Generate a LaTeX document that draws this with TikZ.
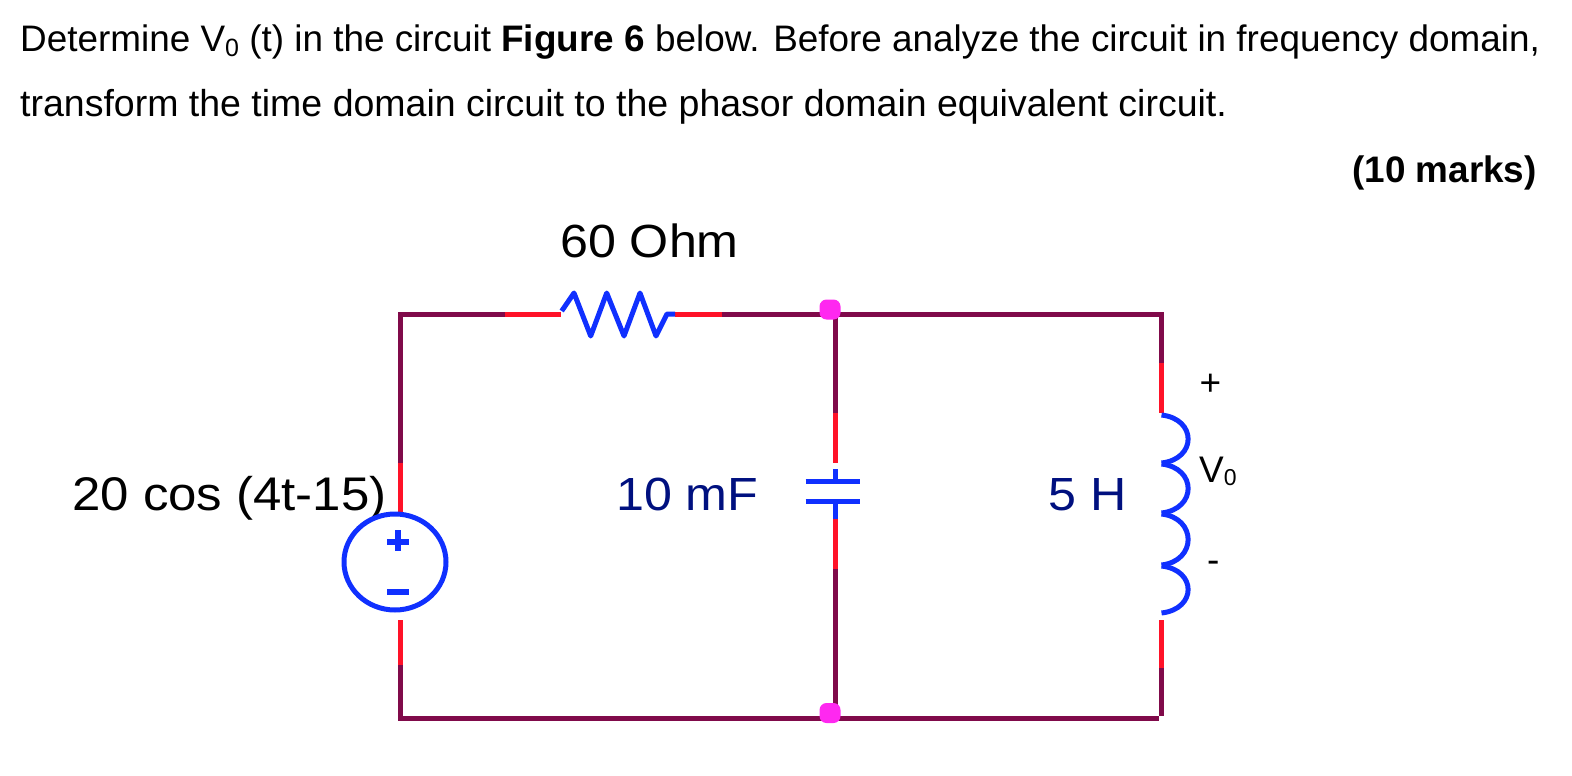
\documentclass[tikz,border=0pt]{standalone}
\usepackage{fontspec}
\setmainfont{Liberation Sans}
\newfontfamily\widefont[FakeStretch=1.08]{Liberation Sans}
\definecolor{wire}{HTML}{800A4A}
\definecolor{lead}{HTML}{FF1228}
\definecolor{comp}{HTML}{1030FF}
\definecolor{dotc}{HTML}{FF28F0}
\definecolor{navy}{HTML}{00107F}
\newcommand{\txt}[1]{\fontsize{#1}{#1}\selectfont}
\begin{document}
\begin{tikzpicture}[x=1pt,y=-1pt,
  wireline/.style={draw=wire,line width=5pt},
  leadline/.style={draw=lead,line width=5pt},
  compline/.style={draw=comp,line width=5pt},
  lbl/.style={inner sep=0pt,anchor=base west},
  hdr/.style={lbl,font=\txt{36.88}},
  big/.style={lbl,font=\widefont\txt{46.5}},
  small/.style={lbl,font=\txt{37}},
  junction/.style={fill=dotc,rounded corners=7pt,minimum width=21pt,minimum height=20pt,inner sep=0pt}]
\useasboundingbox (0,0) rectangle (1572,776);
% texts
\node[hdr] (t1) at (20,52) {Determine V\raisebox{-0.12em}{\txt{25}0} (t) in the circuit \textbf{Figure 6} below. Before analyze the circuit in frequency domain,};
\node[hdr,font=\txt{37.5}] (t2) at (20,116) {transform the time domain circuit to the phasor domain equivalent circuit.};
\node[hdr,anchor=base east] (t3) at (1537,182) {\textbf{(10 marks)}};
\node[big] (r) at (560,257) {60 Ohm};
\node[big,font=\widefont\txt{47.2}] (v) at (72,510) {20 cos (4t-15)};
\node[big,text=navy] (c) at (616,510) {10 mF};
\node[big,text=navy] (l) at (1048,510) {5 H};
\node[small] (plus) at (1199.5,395) {+};
\node[small] (v0) at (1199,482) {V\raisebox{-3pt}{\txt{23}0}};
\node[small] (minus) at (1207,572) {-};
% corners and anchors
\coordinate (tl) at (400.5,314.5);
\coordinate (tm) at (835,314.5);
\coordinate (tr) at (1161,314.5);
\coordinate (bl) at (400.5,718);
\coordinate (bm) at (835,718);
\coordinate (br) at (1158.5,718);
% wires
\draw[wireline,line cap=rect] (400.5,463) -- (tl) -- (505,314.5);
\draw[wireline] (722,314.5) -- (tm) -- (tr) -- (1161,363);
\draw[wireline] (tm) -- (835,413);
\draw[wireline] (835,569) -- (bm);
\draw[wireline] (400.5,665) -- (bl) -- (br);
\draw[wireline] (1161,668) -- (1161,716);
% red leads
\draw[leadline] (505,314.5) -- (561,314.5);
\draw[leadline] (675,314.5) -- (722,314.5);
\draw[leadline] (400.5,463) -- (400.5,513);
\draw[leadline] (400.5,620) -- (400.5,665);
\draw[leadline] (835,413) -- (835,463);
\draw[leadline] (835,519) -- (835,569);
\draw[leadline] (1161,363) -- (1161,413);
\draw[leadline] (1161,620) -- (1161,668);
% resistor
\draw[compline,line join=round] (561.7,311) -- (574,293) -- (590.7,336) -- (606.7,293) -- (624,336) -- (640,293) -- (656,336) -- (667,314) -- (675,314);
% capacitor
\draw[compline] (835,469) -- (835,481);
\draw[compline] (805.5,481) -- (860,481);
\draw[compline] (805.5,501) -- (860,501);
\draw[compline] (835,501) -- (835,519);
% source
\draw[compline] (395,562) ellipse (51pt and 48pt);
\draw[compline,line width=6pt] (387,542) -- (409,542);
\draw[compline,line width=6pt] (398,530) -- (398,550.5);
\draw[compline,line width=6pt] (387,592) -- (409,592);
% inductor
\draw[compline] (1161.5,415) .. controls (1197,419) and (1197,459) .. (1161.5,463);
\draw[compline] (1161.5,464) .. controls (1197,468) and (1197,509) .. (1161.5,513);
\draw[compline] (1161.5,514) .. controls (1197,518) and (1197,561) .. (1161.5,565);
\draw[compline] (1161.5,566) .. controls (1197,570) and (1197,609) .. (1161.5,613);
% junctions
\node[junction] (j1) at (830,309.5) {};
\node[junction] (j2) at (830,713) {};
\end{tikzpicture}
\end{document}
